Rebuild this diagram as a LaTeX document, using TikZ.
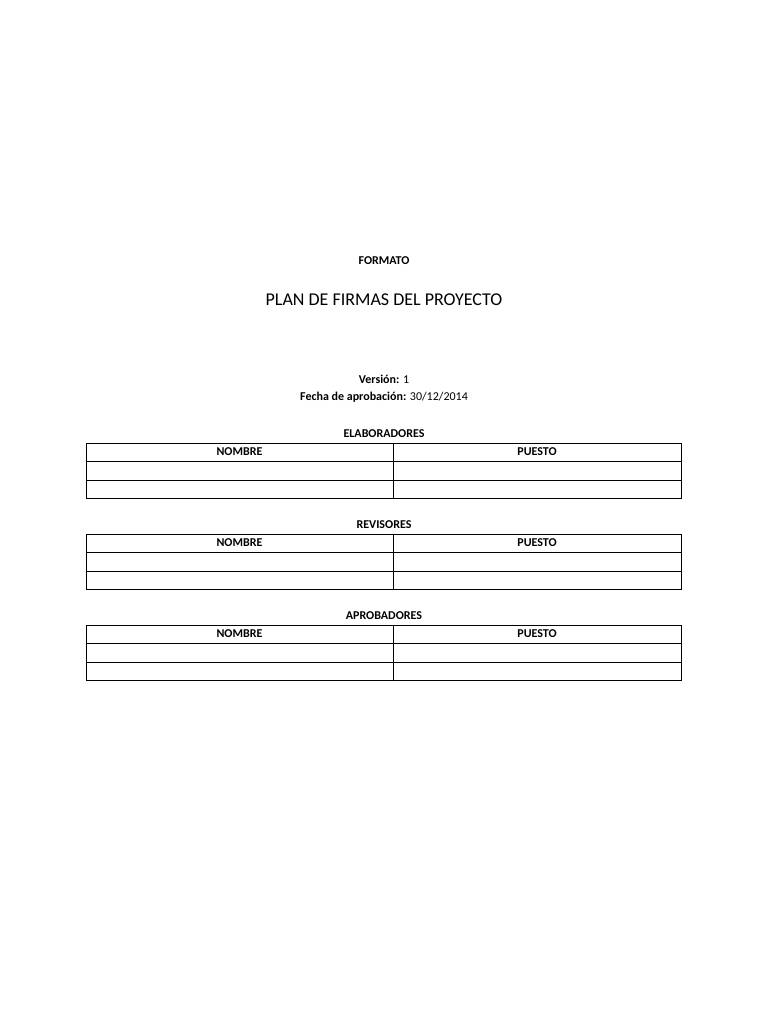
\documentclass[tikz,border=0pt]{standalone}
\usepackage{fontspec}
\setmainfont{Carlito}
\begin{document}
\begin{tikzpicture}[x=1pt,y=-1pt,
  lbl/.style={font=\fontsize{12}{14}\selectfont\bfseries, inner sep=0},
  cell/.style={draw=black, line width=0.8pt}]
\useasboundingbox (0,0) rectangle (768,1024);
\fill[white] (0,0) rectangle (768,1024);
\node[lbl] (fmt) at (384,261) {FORMATO};
\node[font=\fontsize{18}{20}\selectfont, inner sep=0] (title) at (384,300) {PLAN DE FIRMAS DEL PROYECTO};
\node[font=\fontsize{12}{14}\selectfont, inner sep=0] (ver) at (384,379) {\textbf{Versión:} 1};
\node[font=\fontsize{12}{14}\selectfont, inner sep=0] (fecha) at (384,397) {\textbf{Fecha de aprobación:} 30/12/2014};
\foreach \name/\t/\h in {elab/443/ELABORADORES, rev/534/REVISORES, apr/625/APROBADORES}{
  \node[lbl] (\name h) at (384,\t-9) {\h};
  \draw[cell] (86,\t) rectangle (681,\t+55);
  \draw[cell] (86,\t+18) -- (681,\t+18);
  \draw[cell] (86,\t+37) -- (681,\t+37);
  \draw[cell] (393,\t) -- (393,\t+55);
  \node[lbl] (\name n) at (239.5,\t+9) {NOMBRE};
  \node[lbl] (\name p) at (537,\t+9) {PUESTO};
}
\end{tikzpicture}
\end{document}
